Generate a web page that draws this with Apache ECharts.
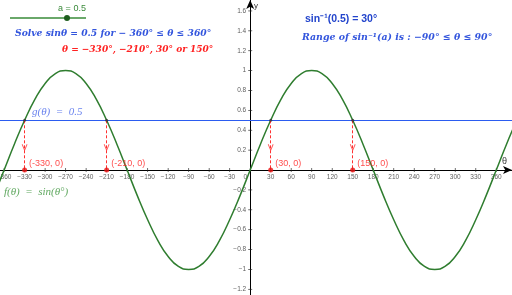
<!DOCTYPE html>
<html><head><meta charset="utf-8">
<script src="https://cdn.jsdelivr.net/npm/echarts@6/dist/echarts.min.js"></script>
<style>html,body{margin:0;padding:0;background:#fff}#c{width:512px;height:295px}</style>
</head><body><div id="c"></div>
<script>
// ---- data ----
const thetaDeg = [-375,-360,-345,-330,-315,-300,-285,-270,-255,-240,-225,-210,-195,-180,-165,-150,-135,-120,-105,-90,-75,-60,-45,-30,-15,0,15,30,45,60,75,90,105,120,135,150,165,180,195,210,225,240,255,270,285,300,315,330,345,360,375,390];
const sinVals = [-0.26,0,0.26,0.5,0.71,0.87,0.97,1,0.97,0.87,0.71,0.5,0.26,0,-0.26,-0.5,-0.71,-0.87,-0.97,-1,-0.97,-0.87,-0.71,-0.5,-0.26,0,0.26,0.5,0.71,0.87,0.97,1,0.97,0.87,0.71,0.5,0.26,0,-0.26,-0.5,-0.71,-0.87,-0.97,-1,-0.97,-0.87,-0.71,-0.5,-0.26,0,0.26,0.5];
const xTicks = [-360,-330,-300,-270,-240,-210,-180,-150,-120,-90,-60,-30,0,30,60,90,120,150,180,210,240,270,300,330,360];
const yTicks = [-1.2,-1,-0.8,-0.6,-0.4,-0.2,0.2,0.4,0.6,0.8,1,1.2,1.4,1.6];
const solutions = [-330,-210,30,150];
const gValue = 0.5;
const sliderValue = 0.5;

const fmt = v => (v < 0 ? '\u2212' + Math.abs(v) : String(v));
const chart = echarts.init(document.getElementById('c'), null, {renderer:'canvas'});
const sliderX0 = 10, sliderX1 = 86;
const dotX = sliderX0 + (sliderValue + 1) / 2 * (sliderX1 - sliderX0);
const tickLabel = {fontSize:6.5,color:'#333',fontFamily:'Liberation Sans'};

chart.setOption({
  animation:false,
  grid:{left:0,right:0,top:0,bottom:0,containLabel:false,outerBoundsMode:'none'},
  xAxis:{type:'value',min:-366,max:383,
    axisLine:{onZero:true,symbol:['none','arrow'],symbolSize:[6,9],lineStyle:{color:'#000',width:1}},
    axisTick:{show:false},axisLabel:{show:false},splitLine:{show:false}},
  yAxis:{type:'value',min:-1.257,max:1.71,
    axisLine:{onZero:true,symbol:['none','arrow'],symbolSize:[6,9],lineStyle:{color:'#000',width:1}},
    axisTick:{show:false},axisLabel:{show:false},splitLine:{show:false}},
  series:[
    {type:'line',data:thetaDeg.map((t,i)=>[t,sinVals[i]]),smooth:true,showSymbol:false,
     lineStyle:{color:'#2f7d2f',width:1.5},z:3,
     markLine:{silent:true,symbol:['none','none'],label:{show:false},
       lineStyle:{color:'#2b5cf0',width:1,type:'solid'},data:[{yAxis:gValue}]}},
    // x tick marks + labels
    {type:'scatter',data:xTicks.map(v=>[v,0]),symbol:'rect',symbolSize:[0.8,4],itemStyle:{color:'#222'},z:2,
     label:{show:true,position:'bottom',distance:2,...tickLabel,
       formatter:p=>p.value[0]===0?'{o|0}':fmt(p.value[0]),
       rich:{o:{...tickLabel,padding:[0,10,0,0]}}}},
    // y tick marks + labels
    {type:'scatter',data:yTicks.map(v=>[0,v]),symbol:'rect',symbolSize:[4,0.8],itemStyle:{color:'#222'},z:2,
     label:{show:true,position:'left',distance:2,...tickLabel,formatter:p=>fmt(p.value[1])}},
    {type:'scatter',data:[],
     markLine:{silent:true,symbol:['none','none'],label:{show:false},
       lineStyle:{color:'#ff3030',width:1,type:[3,2]},
       data:solutions.map(x=>[{coord:[x,gValue]},{coord:[x,0]}])}},
    {type:'scatter',data:solutions.map(x=>[x,gValue/2]),symbol:'path://M0,0L3,5L6,0',symbolSize:[5,6],symbolOffset:[0,2],
     itemStyle:{color:'rgba(0,0,0,0)',borderColor:'#ff3030',borderWidth:1},z:4},
    {type:'scatter',data:solutions.map(x=>[x,gValue]),symbolSize:3,itemStyle:{color:'#333'},z:5},
    {type:'scatter',data:solutions.map(x=>[x,0]),symbolSize:5,itemStyle:{color:'#ee1111'},z:6,
     label:{show:true,position:'right',offset:[-3,-7],color:'#ff2020',fontSize:9,fontFamily:'Liberation Sans',
       formatter:p=>'('+p.value[0]+', 0)'}}
  ],
  graphic:[
    {type:'line',shape:{x1:sliderX0,y1:18,x2:sliderX1,y2:18},style:{stroke:'#6aa86a',lineWidth:2}},
    {type:'circle',shape:{cx:dotX,cy:18,r:3},style:{fill:'#1e5e1e'}},
    {type:'text',x:72,y:9,style:{text:'a = '+sliderValue,fill:'#3a8a3a',font:'9px "Liberation Sans"',align:'center',verticalAlign:'middle'}},
    {type:'text',x:15,y:34,style:{text:'Solve sin\u03b8 = 0.5 for \u2212 360\u00b0 \u2264 \u03b8 \u2264 360\u00b0',fill:'#3355dd',font:'italic bold 9.2px "DejaVu Serif"',verticalAlign:'middle'}},
    {type:'text',x:62,y:50,style:{text:'\u03b8 = \u2212330\u00b0, \u2212210\u00b0, 30\u00b0 or 150\u00b0',fill:'#ff2222',font:'italic bold 9px "DejaVu Serif"',verticalAlign:'middle'}},
    {type:'text',x:305,y:19,style:{text:'sin\u207b\u00b9(0.5) = 30\u00b0',fill:'#2244cc',font:'bold 10.5px "Liberation Sans"',verticalAlign:'middle'}},
    {type:'text',x:302,y:38,style:{text:'Range of sin\u207b\u00b9(a) is : \u221290\u00b0 \u2264 \u03b8 \u2264 90\u00b0',fill:'#3355dd',font:'italic bold 9.4px "DejaVu Serif"',verticalAlign:'middle'}},
    {type:'text',x:32,y:112,style:{text:'g(\u03b8)  =  0.5',fill:'#6b84ee',font:'italic 11px "Liberation Serif"',verticalAlign:'middle'}},
    {type:'text',x:4,y:192,style:{text:'f(\u03b8)  =  sin(\u03b8\u00b0)',fill:'#63aa63',font:'italic 11px "Liberation Serif"',verticalAlign:'middle'}},
    {type:'text',x:254,y:6,style:{text:'y',fill:'#333',font:'8px "Liberation Sans"',verticalAlign:'middle'}},
    {type:'text',x:502,y:162,style:{text:'\u03b8',fill:'#333',font:'9px "Liberation Sans"',verticalAlign:'middle'}}
  ]
});
</script></body></html>
